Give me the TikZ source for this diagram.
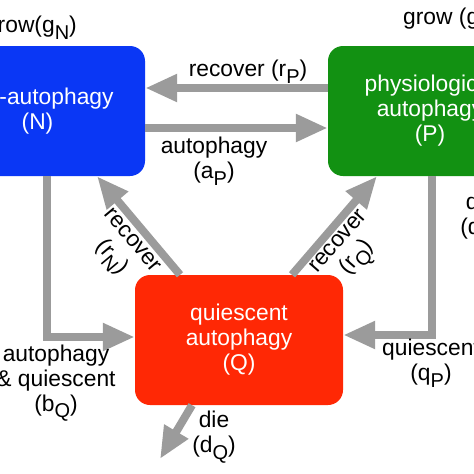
\documentclass[tikz,border=0pt]{standalone}
\usepackage{fontspec}
\setmainfont{Liberation Sans}
\usetikzlibrary{arrows.meta}
\definecolor{nblue}{RGB}{10,55,245}
\definecolor{pgreen}{RGB}{18,145,18}
\definecolor{qred}{RGB}{255,40,5}
\definecolor{agray}{RGB}{155,155,155}
\newcommand\sbs[1]{\raisebox{-0.55ex}{\fontsize{20}{20}\selectfont #1}}
\begin{document}
\begin{tikzpicture}[x=1pt,y=-1pt,
  font=\fontsize{22.8}{25}\selectfont,
  box/.style={rounded corners=15pt, minimum height=130pt, inner sep=0pt, text=white, align=center},
  arr/.style={draw=agray, line width=8pt, -{Triangle[length=32pt,width=26pt]}},
  lbl/.style={align=center, inner sep=0pt}]
\useasboundingbox (0,0) rectangle (474,474);
\clip (0,0) rectangle (474,474);
\fill[white] (0,0) rectangle (474,474);
% boxes
\node[box, fill=nblue, minimum width=215pt] (N) at (37.5,111) {non-autophagy\\(N)};
\node[box, fill=pgreen, minimum width=204pt] (P) at (430,111) {physiological\\autophagy\\(P)};
\node[box, fill=qred, minimum width=208pt] (Q) at (239,340) {quiescent\\autophagy\\(Q)};
\coordinate (dq) at (160,459);
% connectors
\draw[arr] ([yshift=23pt]P.west) -- ([yshift=23pt]N.east);
\draw[arr] ([yshift=-17pt]N.east) -- ([yshift=-17pt]P.west);
\draw[arr] ([xshift=9.5pt]N.south) |- ([yshift=3pt]Q.west);
\draw[arr] ([xshift=-59pt]Q.north) -- ([xshift=59.5pt]N.south);
\draw[arr] ([xshift=53pt]Q.north) -- ([xshift=-53pt]P.south);
\draw[arr] ([xshift=2pt]P.south) |- ([yshift=5pt]Q.east);
\draw[arr] ([xshift=-47pt]Q.south) -- (dq);
% labels
\node[lbl] (lrp) at (248,72) {recover (r\sbs{P})};
\node[lbl] (lap) at (214,161) {autophagy\\(a\sbs{P})};
\node[lbl] (lbq) at (56,383) {autophagy\\\& quiescent\\(b\sbs{Q})};
\node[lbl] (ldq) at (214,437) {die\\(d\sbs{Q})};
\node[lbl] (lqp) at (431,363) {quiescent\\(q\sbs{P})};
\node[lbl] (ldp) at (481,217) {die\\(d\sbs{P})};
\node[lbl, anchor=east] (lgn) at (77,28) {grow(g\sbs{N})};
\node[lbl, anchor=west] (lgp) at (403,20) {grow (g\sbs{P})};
\node[lbl, rotate=-50] (lrn1) at (133,240) {recover};
\node[lbl, rotate=-50] (lrn2) at (111,258) {(r\sbs{N})};
\node[lbl, rotate=49] (lrq1) at (338,241) {recover};
\node[lbl, rotate=49] (lrq2) at (359,259) {(r\sbs{Q})};
\end{tikzpicture}
\end{document}
